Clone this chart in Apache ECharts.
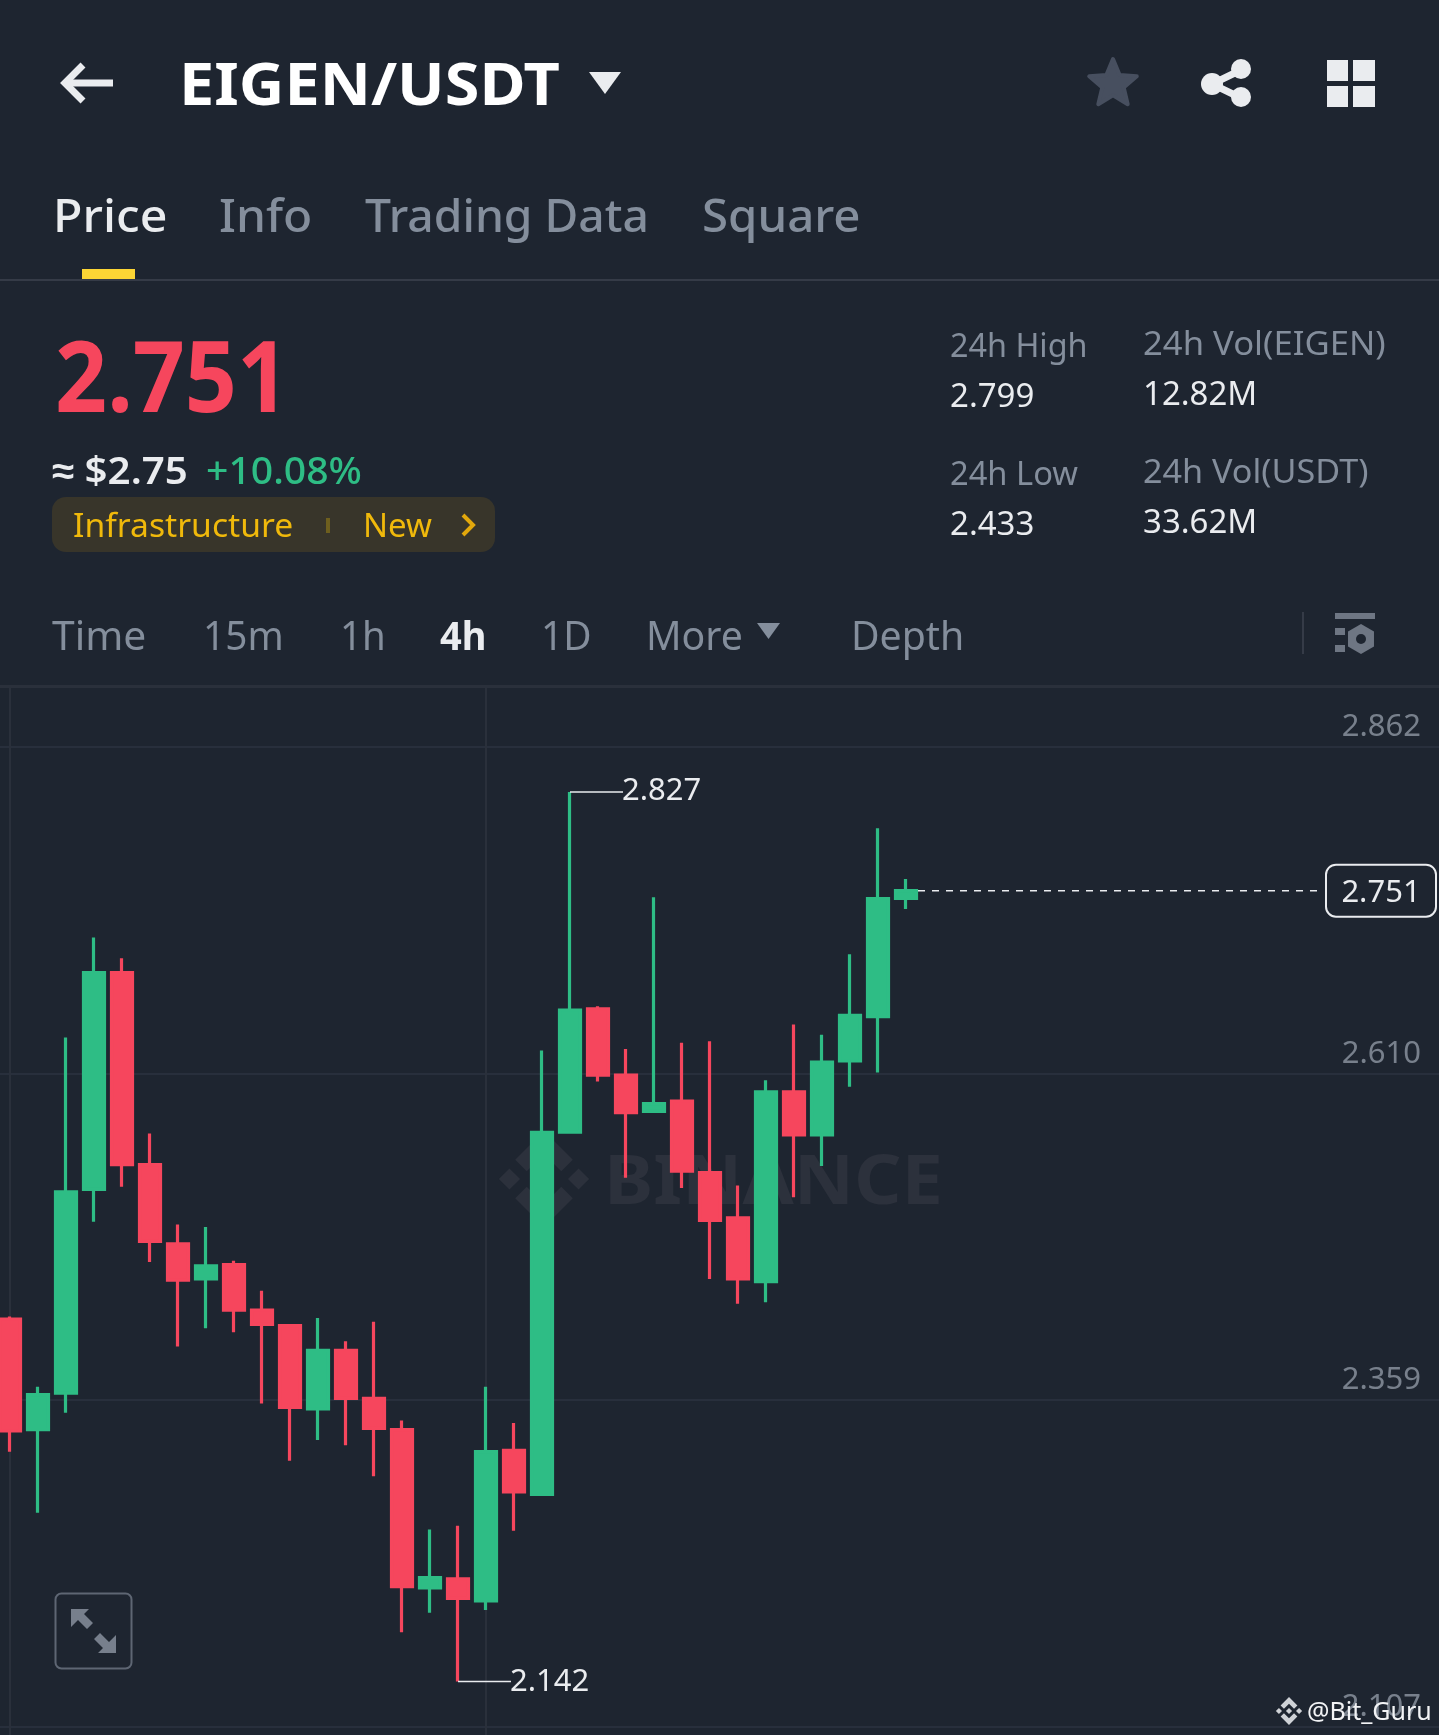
<!DOCTYPE html>
<html>
<head>
<meta charset="utf-8">
<title>EIGEN/USDT</title>
<style>
html,body{margin:0;padding:0;background:#1E2530;}
#main{width:1439px;height:1735px;}
</style>
<script src="https://cdn.jsdelivr.net/npm/echarts@6/dist/echarts.min.js"></script>
</head>
<body>
<div id="main"></div>
<script>
// 4h candles
var opens  = [2.421,2.336,2.364,2.521,2.688,2.540,2.479,2.452,2.463,2.428,2.416,2.352,2.397,2.360,2.336,2.214,2.221,2.204,2.320,2.286,2.565,2.660,2.609,2.581,2.589,2.534,2.499,2.450,2.596,2.563,2.620,2.654,2.745]
var closes = [2.335,2.363,2.519,2.688,2.540,2.481,2.451,2.462,2.428,2.417,2.353,2.397,2.360,2.337,2.215,2.222,2.206,2.319,2.288,2.565,2.659,2.609,2.580,2.587,2.535,2.497,2.452,2.596,2.563,2.619,2.655,2.745,2.751]
var lows   = [2.319,2.272,2.349,2.496,2.523,2.465,2.400,2.414,2.411,2.356,2.312,2.328,2.324,2.300,2.180,2.195,2.142,2.197,2.258,2.285,2.564,2.604,2.530,2.580,2.522,2.452,2.433,2.434,2.515,2.539,2.600,2.611,2.737]
var highs  = [2.423,2.369,2.638,2.715,2.699,2.564,2.494,2.492,2.466,2.443,2.416,2.422,2.404,2.419,2.343,2.259,2.262,2.369,2.341,2.628,2.827,2.662,2.629,2.746,2.634,2.635,2.524,2.605,2.648,2.640,2.702,2.799,2.760]
var priceTicks = [2.107,2.359,2.610,2.862]
var lastPrice = 2.751
var slotCount = 52

var FONT = '"Noto Sans", sans-serif'
var UP = '#2EBD85', DOWN = '#F6465D', BG = '#1E2530', LINE = '#2D3340', GREY = '#848E9C'

var categories = []
for (var i = 0; i < slotCount; i++) categories.push(String(i))
var candles = opens.map(function (o, i) { return [o, closes[i], lows[i], highs[i]] })

// 文字
function txt (x, y, text, size, color, weight, sx, align, z) {
    return {
        type: 'text', x: x, y: y, scaleX: sx || 1, z: z == null ? 5 : z,
        style: {
            text: text, fontSize: size, fontFamily: FONT, fontWeight: weight || 'normal',
            fill: color, align: align || 'left', verticalAlign: 'middle'
        }
    }
}
function poly (points, fill, z) {
    return {type: 'polygon', z: z == null ? 5 : z, shape: {points: points}, style: {fill: fill}}
}
function stroke (points, color, width, z, dash) {
    return {
        type: 'polyline', z: z == null ? 5 : z, shape: {points: points},
        style: {stroke: color, lineWidth: width, fill: null, lineDash: dash || null, lineCap: 'butt', lineJoin: 'miter'}
    }
}
function rect (x, y, w, h, fill, r, z) {
    return {type: 'rect', z: z == null ? 5 : z, shape: {x: x, y: y, width: w, height: h, r: r || 0}, style: {fill: fill}}
}
// binance logo
function logo (cx, cy, s, color, z) {
    var out = []
    function p (list) {
        out.push(poly(list.map(function (a) { return [cx + a[0] * s, cy + a[1] * s] }), color, z))
    }
    p([[0, -0.22], [0.22, 0], [0, 0.22], [-0.22, 0]])
    p([[-0.72, -0.22], [-0.5, 0], [-0.72, 0.22], [-0.94, 0]])
    p([[0.72, -0.22], [0.94, 0], [0.72, 0.22], [0.5, 0]])
    p([[0, -1], [0.6, -0.4], [0.36, -0.16], [0, -0.52], [-0.36, -0.16], [-0.6, -0.4]])
    p([[0, 1], [0.6, 0.4], [0.36, 0.16], [0, 0.52], [-0.36, 0.16], [-0.6, 0.4]])
    return out
}
function star (cx, cy, r, color) {
    var pts = []
    for (var i = 0; i < 10; i++) {
        var a = -Math.PI / 2 + i * Math.PI / 5
        var rr = i % 2 ? r * 0.45 : r
        pts.push([cx + rr * Math.cos(a), cy + rr * Math.sin(a)])
    }
    return {type: 'polygon', z: 5, shape: {points: pts}, style: {fill: color, stroke: color, lineWidth: 4, lineJoin: 'round'}}
}
function circle (cx, cy, r, fill) {
    return {type: 'circle', z: 5, shape: {cx: cx, cy: cy, r: r}, style: {fill: fill}}
}

function staticParts () {
    var g = []
    // 顶部标题栏
    g.push(stroke([[113, 83], [68, 83]], '#EAECEF', 7))
    g.push(stroke([[83, 65], [65, 83], [83, 101]], '#EAECEF', 7))
    g.push(txt(179, 88, 'EIGEN/USDT', 60, '#FFFFFF', 'bold', 1.05))
    g.push(poly([[589, 72], [621, 72], [605, 94]], '#EAECEF'))
    g.push(star(1113, 84, 25, '#474F5F'))
    g.push(stroke([[1241, 70], [1212, 84], [1241, 98]], '#EAECEF', 7))
    g.push(circle(1241, 69, 10, '#EAECEF'), circle(1212, 84, 11, '#EAECEF'), circle(1241, 97, 10, '#EAECEF'))
    g.push(rect(1327, 60, 21, 21, '#EAECEF'), rect(1353, 60, 22, 21, '#EAECEF'), rect(1327, 86, 21, 21, '#EAECEF'), rect(1353, 86, 22, 21, '#EAECEF'))

    // tabs
    g.push(txt(53, 219, 'Price', 46, '#EAECEF', 500, 1.05))
    g.push(txt(219, 219, 'Info', 46, GREY, 500, 1.04))
    g.push(txt(365, 219, 'Trading Data', 46, GREY, 500, 1.005))
    g.push(txt(702, 219, 'Square', 46, GREY, 500, 1.03))
    g.push(rect(82, 269, 53, 10, '#FCD535'))
    g.push(rect(0, 279, 1439, 2, '#353B47'))

    // 价格区
    g.push(txt(55, 384, '2.751', 98, DOWN, 'bold', 0.93))
    g.push(txt(52, 473, '≈ $2.75', 38, '#EAECEF', 600, 1.06))
    g.push(txt(206, 473, '+10.08%', 38, UP, 500, 1.03))
    g.push(rect(52, 497, 443, 55, '#38352A', 14))
    g.push(txt(73, 528, 'Infrastructure', 33, '#F0B90B', 'normal', 1.02))
    g.push(rect(326, 518, 4, 15, '#6E5F1E'))
    g.push(txt(363, 528, 'New', 33, '#F0B90B'))
    g.push(stroke([[463, 515], [473, 525], [463, 535]], '#E2A80C', 4))

    g.push(txt(950, 348, '24h High', 33, GREY, 'normal', 0.98))
    g.push(txt(950, 398, '2.799', 33, '#EAECEF'))
    g.push(txt(1143, 346, '24h Vol(EIGEN)', 33, GREY, 'normal', 1.05))
    g.push(txt(1143, 396, '12.82M', 33, '#EAECEF'))
    g.push(txt(950, 476, '24h Low', 33, GREY, 'normal', 0.99))
    g.push(txt(950, 526, '2.433', 33, '#EAECEF'))
    g.push(txt(1143, 474, '24h Vol(USDT)', 33, GREY, 'normal', 1.035))
    g.push(txt(1143, 524, '33.62M', 33, '#EAECEF'))

    // 周期工具栏
    g.push(txt(52, 639, 'Time', 40, GREY, 'normal', 1.02))
    g.push(txt(203, 639, '15m', 40, GREY, 'normal', 0.97))
    g.push(txt(340, 639, '1h', 40, GREY, 'normal', 0.96))
    g.push(txt(440, 639, '4h', 40, '#EAECEF', 'bold', 0.95))
    g.push(txt(541, 639, '1D', 40, GREY, 'normal', 0.97))
    g.push(txt(646, 639, 'More', 40, GREY, 'normal', 0.98))
    g.push(poly([[757, 623], [780, 623], [768.5, 639]], GREY))
    g.push(txt(851, 639, 'Depth', 40, GREY, 'normal', 0.98))
    g.push(rect(1302, 612, 2, 42, '#353B47'))
    g.push(rect(1335, 613, 40, 6, '#6E7683'), rect(1335, 628, 10, 7, '#6E7683'), rect(1335, 645, 10, 7, '#6E7683'))
    var hex = []
    for (var k = 0; k < 6; k++) {
        var a = Math.PI / 6 + k * Math.PI / 3
        hex.push([1361 + 15 * Math.cos(a), 639 + 15 * Math.sin(a)])
    }
    g.push(poly(hex, '#6E7683'), circle(1361, 639, 5, BG))
    g.push(rect(0, 685, 1439, 3, '#2A303B', 0, 1))

    // 水印
    logo(544, 1179, 48, '#2C313C', 0).forEach(function (e) { g.push(e) })
    g.push(txt(604, 1185, 'BINANCE', 68, '#2C313C', 'bold', 1.09, 'left', 0))

    // 展开按钮
    g.push({type: 'rect', z: 5, shape: {x: 55.5, y: 1593.5, width: 76, height: 75, r: 6}, style: {fill: 'none', stroke: '#5E6673', lineWidth: 2}})
    g.push(poly([[71, 1609], [89, 1609], [84, 1614], [93, 1623], [87, 1629], [78, 1620], [71, 1627]], '#777F8C'))
    g.push(poly([[116, 1653], [98, 1653], [103, 1648], [94, 1639], [100, 1633], [109, 1642], [116, 1635]], '#777F8C'))

    // 右下角作者
    logo(1289, 1711, 14, '#CFD2D6', 12).forEach(function (e) { g.push(e) })
    g.push(txt(1307, 1713, '@Bit_Guru', 25, '#F2F3F5', 'normal', 1, 'left', 12))
    return g
}

var myChart = echarts.init(document.getElementById('main'))
var option = {
    animation: false,
    backgroundColor: BG,
    grid: {left: -4, top: 688, width: 1456, height: 1047, outerBoundsMode: 'none'},
    xAxis: {
        type: 'category',
        data: categories,
        axisLine: {show: false},
        axisTick: {show: false},
        axisLabel: {show: false},
        splitLine: {
            show: true,
            alignWithLabel: true,
            interval: function (index) { return index === 0 || index === 17 },
            lineStyle: {color: '#2A303B', width: 2}
        }
    },
    yAxis: {
        type: 'value',
        position: 'right',
        min: 2.1008,
        max: 2.9071,
        axisLine: {show: false},
        axisTick: {show: false, customValues: priceTicks},
        axisLabel: {
            inside: true,
            margin: 31,
            customValues: priceTicks,
            verticalAlign: 'bottom',
            padding: [0, 0, 4, 0],
            formatter: function (v) { return v.toFixed(3) },
            color: '#78808C',
            fontSize: 31,
            fontFamily: FONT
        },
        splitLine: {show: true, lineStyle: {color: LINE, width: 1.5}}
    },
    series: [{
        type: 'candlestick',
        data: candles,
        barWidth: 21.6,
        itemStyle: {color: UP, color0: DOWN, borderColor: UP, borderColor0: DOWN, borderWidth: 3.2}
    }],
    graphic: staticParts()
}
myChart.setOption(option)

// 最新价虚线、最高最低价标注，位置由坐标轴换算
function toPx (index, price) { return myChart.convertToPixel({gridIndex: 0}, [index, price]) }
var parts = staticParts()
var lastY = toPx(0, lastPrice)[1]
var lastX = toPx(opens.length - 1, lastPrice)[0]
parts.push(stroke([[lastX + 12, lastY], [1318, lastY]], '#EAECEF', 1.5, 6, [7, 7]))
parts.push({type: 'rect', z: 6, shape: {x: 1326, y: lastY - 26, width: 110, height: 52, r: 10}, style: {fill: BG, stroke: '#EAECEF', lineWidth: 2}})
parts.push(txt(1381, lastY + 2, lastPrice.toFixed(3), 31, '#EAECEF', 'normal', 1, 'center', 7))

var hi = highs.indexOf(Math.max.apply(null, highs))
var lo = lows.indexOf(Math.min.apply(null, lows))
var hiPx = toPx(hi, highs[hi]), loPx = toPx(lo, lows[lo])
parts.push(stroke([[hiPx[0], hiPx[1]], [hiPx[0] + 53, hiPx[1]]], '#EAECEF', 1.5, 6))
parts.push(txt(hiPx[0] + 52, hiPx[1] - 1, highs[hi].toFixed(3), 31, '#EAECEF', 'normal', 1, 'left', 6))
parts.push(stroke([[loPx[0], loPx[1]], [loPx[0] + 53, loPx[1]]], '#EAECEF', 1.5, 6))
parts.push(txt(loPx[0] + 52, loPx[1] + 1, lows[lo].toFixed(3), 31, '#EAECEF', 'normal', 1, 'left', 6))
myChart.setOption({graphic: parts})
</script>
</body>
</html>
